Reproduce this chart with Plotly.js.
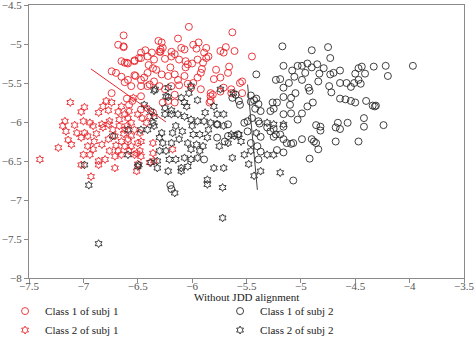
<!DOCTYPE html>
<html>
<head>
<meta charset="utf-8">
<script src="https://cdn.plot.ly/plotly-3.0.1.min.js"></script>
<style>html,body{margin:0;padding:0;background:#fff;}#chart{width:474px;height:351px;}</style>
</head>
<body>
<div id="chart"></div>
<script>
// Class 1 of subj 1 (red circles)
const c1s1X = [-6.63,-6.63,-6.03,-6.13,-6.31,-6.28,-6.29,-6.29,-6.37,-6.47,-6.19,-6.16,-6.10,-6.07,-5.99,-5.94,-5.96,-5.87,-5.89,-5.85,-5.74,-5.71,-5.69,-5.61,-5.63,-5.45,-6.62,-6.59,-6.53,-6.47,-6.41,-6.35,-6.25,-6.19,-6.12,-6.06,-6.04,-6.00,-5.95,-5.90,-5.87,-5.78,-5.66,-5.67,-5.74,-5.91,-5.92,-5.95,-5.99,-6.01,-6.07,-6.13,-6.16,-6.22,-6.28,-6.33,-6.36,-6.41,-6.44,-6.53,-6.59,-6.56,-6.47,-6.39,-6.35,-6.30,-6.25,-6.19,-6.12,-6.16,-6.22,-6.27,-6.04,-5.92,-5.83,-5.83,-5.84,-5.71,-5.64,-6.55,-6.58,-6.68,-6.63,-6.65,-6.60,-6.53,-6.49,-6.43,-6.74,-6.70,-6.65,-6.62,-6.52,-6.47,-6.74,-6.60,-6.47,-6.41,-5.56,-5.54,-5.83,-6.16,-5.74,-5.81,-5.64,-5.54,-6.47,-6.36,-6.30,-6.27,-6.06,-6.20,-5.80,-6.40];
const c1s1Y = [-4.89,-5.03,-4.78,-4.93,-4.96,-4.98,-5.07,-5.10,-5.11,-5.11,-5.10,-5.13,-5.05,-5.07,-5.01,-4.98,-5.06,-5.05,-5.11,-5.16,-5.09,-5.11,-5.04,-5.09,-4.85,-5.16,-5.24,-5.25,-5.22,-5.18,-5.16,-5.20,-5.19,-5.16,-5.20,-5.22,-5.26,-5.25,-5.20,-5.24,-5.18,-5.33,-5.29,-5.37,-5.43,-5.32,-5.37,-5.43,-5.50,-5.56,-5.41,-5.46,-5.39,-5.41,-5.39,-5.33,-5.31,-5.37,-5.43,-5.40,-5.46,-5.54,-5.54,-5.52,-5.48,-5.54,-5.58,-5.54,-5.53,-5.65,-5.73,-5.75,-5.51,-5.58,-5.63,-5.67,-5.75,-5.56,-5.58,-5.73,-5.78,-5.01,-5.04,-5.22,-5.24,-5.21,-5.18,-5.08,-5.35,-5.37,-5.42,-5.49,-5.41,-5.46,-5.63,-5.70,-5.67,-5.54,-5.50,-5.48,-5.73,-5.75,-5.61,-5.65,-5.63,-5.63,-5.84,-5.88,-5.10,-5.05,-5.30,-5.30,-5.45,-5.27];

// Class 2 of subj 1 (red hexagrams)
const c2s1X = [-7.12,-6.99,-7.02,-6.86,-6.79,-6.74,-6.82,-6.77,-6.68,-6.65,-6.54,-6.58,-6.50,-6.59,-6.67,-6.76,-6.83,-6.91,-7.00,-7.08,-7.17,-7.19,-7.16,-7.06,-6.99,-6.94,-6.82,-6.77,-6.73,-6.67,-6.62,-6.56,-6.53,-6.48,-7.14,-7.11,-7.02,-6.96,-6.90,-6.96,-6.91,-6.83,-6.77,-6.71,-6.65,-6.59,-6.56,-6.50,-7.23,-7.40,-7.00,-6.94,-6.86,-6.80,-6.76,-6.71,-6.68,-6.65,-6.62,-6.58,-6.53,-6.48,-6.71,-6.93,-6.42,-6.39,-7.02,-6.86,-6.51,-6.39,-6.47,-6.62,-6.46,-6.63,-6.56,-6.47,-6.51,-6.50,-6.36,-6.36,-6.42,-6.18,-6.35,-6.88,-6.70,-6.60];
const c2s1Y = [-5.75,-5.81,-5.87,-5.88,-5.73,-5.75,-5.80,-5.85,-5.87,-5.80,-5.69,-5.86,-5.90,-5.95,-5.97,-5.99,-6.03,-6.05,-5.99,-6.04,-5.99,-6.05,-6.12,-6.14,-6.14,-6.01,-6.07,-6.03,-6.10,-6.05,-6.10,-6.01,-6.10,-6.14,-6.23,-6.29,-6.20,-6.18,-6.25,-6.31,-6.35,-6.29,-6.22,-6.18,-6.25,-6.22,-6.31,-6.27,-6.33,-6.48,-6.42,-6.42,-6.50,-6.48,-6.37,-6.44,-6.37,-6.42,-6.31,-6.37,-6.42,-6.37,-6.59,-6.70,-5.82,-5.93,-6.55,-6.55,-6.63,-6.52,-6.44,-5.90,-5.95,-6.15,-6.18,-6.25,-6.40,-6.54,-6.27,-6.40,-6.01,-6.35,-6.50,-6.15,-6.30,-6.05];

// Class 1 of subj 2 (black circles)
const c1s2X = [-5.17,-4.90,-4.75,-4.73,-5.41,-5.16,-5.08,-5.03,-4.99,-4.94,-4.85,-4.79,-4.83,-4.96,-4.99,-5.06,-5.23,-5.19,-5.11,-5.16,-4.84,-4.93,-4.92,-4.74,-4.73,-4.70,-4.64,-4.64,-4.58,-4.54,-4.51,-4.47,-4.45,-4.50,-4.47,-4.44,-4.41,-4.72,-4.64,-4.59,-4.54,-4.50,-4.40,-4.34,-4.31,-4.89,-4.94,-5.05,-5.09,-5.10,-5.16,-5.22,-5.26,-5.25,-5.16,-5.09,-4.99,-5.03,-4.86,-4.82,-4.66,-4.57,-4.64,-4.42,-4.42,-4.68,-4.47,-4.90,-4.99,-5.09,-5.43,-5.39,-5.42,-5.37,-5.28,-5.49,-5.39,-5.31,-5.25,-5.19,-5.25,-5.16,-5.37,-5.16,-4.33,-4.22,-4.20,-3.97,-4.32,-4.24,-4.88,-5.63,-5.56,-5.46,-5.41,-5.46,-5.52,-5.45,-5.38,-5.49,-5.28,-5.77,-5.67,-5.67,-5.58,-5.46,-5.40,-5.07,-5.13,-4.86,-4.84,-4.92,-5.07,-5.16,-5.22,-5.37,-5.39,-5.23,-4.82,-4.68,-6.20,-6.19,-5.77,-5.70,-5.89,-5.60,-5.57,-4.90];
const c1s2Y = [-5.03,-5.08,-5.04,-5.18,-5.39,-5.28,-5.34,-5.28,-5.28,-5.25,-5.26,-5.31,-5.38,-5.37,-5.46,-5.42,-5.46,-5.45,-5.50,-5.56,-5.48,-5.56,-5.60,-5.54,-5.39,-5.37,-5.34,-5.50,-5.50,-5.55,-5.50,-5.46,-5.51,-5.38,-5.31,-5.29,-5.38,-5.62,-5.70,-5.71,-5.73,-5.75,-5.73,-5.79,-5.79,-5.75,-5.80,-5.63,-5.69,-5.78,-5.68,-5.75,-5.75,-5.83,-5.90,-5.89,-5.89,-5.97,-6.04,-6.06,-6.01,-6.01,-6.09,-5.95,-6.06,-6.25,-6.25,-6.22,-6.22,-6.28,-5.72,-5.77,-5.83,-5.86,-5.86,-5.99,-5.99,-6.07,-6.09,-6.16,-6.19,-6.06,-6.19,-6.22,-5.29,-5.28,-5.41,-5.28,-5.80,-6.04,-6.25,-5.69,-5.78,-5.66,-5.70,-5.74,-6.01,-5.95,-6.02,-6.12,-6.12,-6.03,-6.03,-6.18,-6.16,-6.27,-6.31,-6.27,-6.27,-6.27,-6.35,-6.47,-6.75,-6.39,-6.36,-6.38,-6.48,-6.16,-6.11,-6.07,-6.81,-6.86,-6.20,-6.25,-6.48,-5.65,-5.73,-5.30];

// Class 2 of subj 2 (black hexagrams)
const c2s2X = [-6.35,-6.25,-6.19,-6.13,-6.07,-6.01,-5.95,-5.89,-5.83,-5.77,-5.71,-5.77,-5.71,-6.35,-6.41,-6.47,-6.28,-6.18,-6.09,-5.99,-5.93,-5.86,-6.12,-6.19,-6.27,-6.04,-5.96,-5.90,-6.01,-5.93,-6.30,-6.24,-6.21,-6.15,-6.07,-6.01,-5.95,-6.10,-6.04,-6.10,-6.22,-6.32,-6.38,-5.80,-5.71,-5.63,-5.67,-5.75,-5.64,-5.61,-5.57,-5.86,-5.86,-5.72,-6.16,-5.72,-5.48,-5.52,-5.43,-5.19,-5.37,-5.46,-5.31,-5.25,-5.41,-5.25,-5.16,-5.31,-6.99,-6.50,-6.44,-6.38,-6.36,-6.59,-6.73,-6.59,-6.95,-6.86,-6.49,-6.32,-6.35,-6.22,-6.10,-6.01,-6.03,-5.74,-6.22,-6.25,-6.19,-6.05,-5.62,-6.34,-6.24,-5.95,-6.07,-5.88,-5.80,-6.00,-5.85,-6.15,-6.30,-5.55];
const c2s2Y = [-5.93,-5.90,-5.90,-5.90,-5.93,-5.97,-5.99,-5.99,-6.01,-5.90,-5.90,-6.03,-6.05,-6.05,-6.10,-6.10,-6.14,-6.14,-6.12,-6.16,-6.16,-6.20,-6.22,-6.27,-6.27,-6.27,-6.29,-6.31,-6.35,-6.37,-6.37,-6.37,-6.48,-6.48,-6.46,-6.48,-6.46,-6.59,-6.57,-6.63,-6.63,-6.50,-6.52,-6.59,-6.59,-6.46,-6.27,-6.31,-6.16,-6.18,-6.16,-6.74,-6.80,-6.84,-6.91,-7.23,-6.54,-6.42,-6.69,-6.65,-6.63,-6.37,-6.42,-6.42,-6.14,-6.03,-6.03,-6.01,-6.55,-6.57,-5.78,-5.86,-6.01,-6.10,-6.18,-6.42,-6.81,-7.56,-6.55,-6.59,-5.60,-5.56,-5.69,-5.54,-5.63,-5.58,-5.68,-5.82,-5.85,-5.80,-5.63,-5.58,-5.67,-5.72,-5.75,-5.88,-5.80,-6.05,-6.10,-6.05,-6.20,-6.25];

// Separation lines
const redLineX = [-6.93, -6.24];
const redLineY = [-5.32, -6.00];
const blackLineX = [-5.49, -5.40];
const blackLineY = [-5.52, -6.87];

const xTitle = 'Without JDD alignment';

const RED = '#e8262c';
const DARK = '#2b2b2b';
const serif = 'Liberation Serif, Times New Roman, serif';

const mk = (sym, col, sz) => ({symbol: sym, size: sz, color: col, line: {color: col, width: 0.9}});

const traces = [
  {x: c1s1X, y: c1s1Y, mode: 'markers', type: 'scatter', name: 'Class 1 of subj 1', marker: mk('circle-open', RED, 7), legendrank: 1},
  {x: c2s1X, y: c2s1Y, mode: 'markers', type: 'scatter', name: 'Class 2 of subj 1', marker: mk('hexagram-open', RED, 6), legendrank: 3},
  {x: c1s2X, y: c1s2Y, mode: 'markers', type: 'scatter', name: 'Class 1 of subj 2', marker: mk('circle-open', DARK, 7), legendrank: 2},
  {x: c2s2X, y: c2s2Y, mode: 'markers', type: 'scatter', name: 'Class 2 of subj 2', marker: mk('hexagram-open', DARK, 6), legendrank: 4},
  {x: redLineX, y: redLineY, mode: 'lines', type: 'scatter', line: {color: RED, width: 1}, showlegend: false, hoverinfo: 'skip'},
  {x: blackLineX, y: blackLineY, mode: 'lines', type: 'scatter', line: {color: '#444', width: 1}, showlegend: false, hoverinfo: 'skip'}
];

const axisCommon = {
  showgrid: false, zeroline: false, showline: true, linecolor: '#8a8a8a', linewidth: 1,
  mirror: true, ticks: 'outside', ticklen: 4, tickcolor: '#8a8a8a', dtick: 0.5,
  ticklabeloverflow: 'allow',
  tickfont: {family: serif, size: 11, color: '#555'}
};

const layout = {
  width: 474, height: 351,
  margin: {l: 27, r: 10, t: 5, b: 73},
  paper_bgcolor: '#fff', plot_bgcolor: '#fff',
  font: {family: serif, size: 11, color: '#222'},
  xaxis: Object.assign({}, axisCommon, {range: [-7.5, -3.5], tick0: -7.5, ticklabelstandoff: -6}),
  yaxis: Object.assign({}, axisCommon, {range: [-8, -4.5], tick0: -8}),
  annotations: [{text: xTitle, xref: 'paper', yref: 'paper', x: 0.5, y: -0.068, xanchor: 'center', yanchor: 'middle',
    showarrow: false, font: {family: serif, size: 11, color: '#222'}}],
  showlegend: true,
  legend: {orientation: 'h', x: -0.055, xanchor: 'left', y: -0.068, yanchor: 'top',
    entrywidth: 170, traceorder: 'normal', font: {family: serif, size: 11, color: '#222'},
    bgcolor: 'rgba(0,0,0,0)', itemclick: false}
};

Plotly.newPlot('chart', traces, layout, {staticPlot: true, displayModeBar: false});
</script>
</body>
</html>
